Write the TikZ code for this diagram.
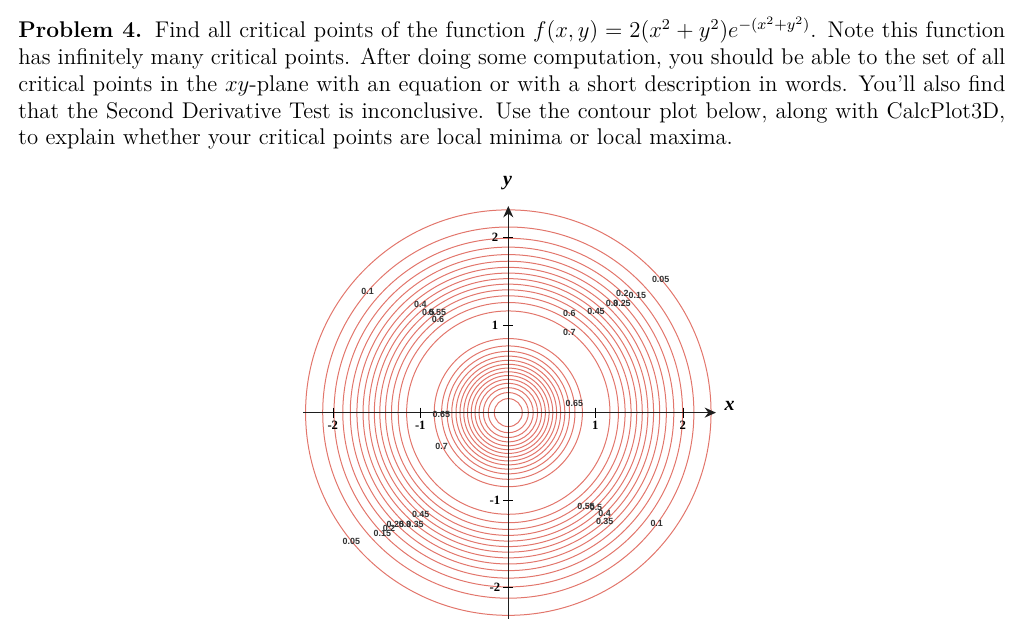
\documentclass[tikz,border=0pt]{standalone}
\usepackage{amsmath}
\usepackage{amssymb}
\usepackage{fontspec}
\usepackage{tikz}
\usetikzlibrary{arrows.meta}
\newfontfamily\plotfont{Liberation Sans}
\newfontfamily\axisfont{Liberation Serif}
\tikzset{
  contour/.style={draw={rgb, 255:red, 226; green, 118; blue, 108},line width=0.75pt},
  axisline/.style={draw={rgb, 255:red, 30; green, 30; blue, 30},line width=1.15pt,-{Stealth[length=8.5pt,width=7.5pt]}},
  tickmark/.style={line width=0.7pt},
  levellabel/.style={inner sep=0pt,font=\plotfont\bfseries\fontsize{6.7}{7}\selectfont,text={rgb, 255:red, 50; green, 50; blue, 50}},
  ticklabel/.style={inner sep=0pt,font=\axisfont\bfseries\fontsize{9.5}{10}\selectfont},
  axislabel/.style={inner sep=0pt,font=\axisfont\itshape\bfseries\fontsize{15}{16}\selectfont},
  problemtext/.style={inner sep=0pt,anchor=north west,align=justify,text width=521.3pt,xscale=1.42,yscale=-1.42,transform shape,font=\fontsize{12}{14.13}\selectfont}
}
\begin{document}
\begin{tikzpicture}[x=0.75pt,y=0.75pt,yscale=-1,xscale=1]
\useasboundingbox (0,0) rectangle (1024,637);
\node [problemtext] (problem) at (18,16.5) {\hyphenpenalty=10000\textbf{Problem 4.}\hspace{0.55em}Find all critical points of the function $f(x,y)=2(x^2+y^2)e^{-(x^2+y^2)}$. Note this function has infinitely many critical points. After doing some computation, you should be able to the set of all critical points in the $xy$-plane with an equation or with a short description in words. You'll also find that the Second Derivative Test is inconclusive. Use the contour plot below, along with CalcPlot3D,\linebreak to explain whether your critical points are local minima or local maxima.\par};
%Contours
\coordinate (origin) at (508.3,412.6);
\foreach \r in {0.1601,0.2296,0.2853,0.3344,0.380,0.4238,0.4665,0.5091,0.5526,0.5978,0.6465,0.6996,0.762,0.8466,1.162,1.2584,1.3347,1.403,1.4682,1.531,1.5946,1.660,1.730,1.806,1.8914,1.992,2.121,2.317}
  \draw [contour] (origin) circle [radius=87.5*\r];
%Axes
\coordinate (xstart) at (303,412.6);
\coordinate (xend) at (716,412.6);
\coordinate (ystart) at (508.3,618.5);
\coordinate (yend) at (508.3,206);
\draw [axisline] (xstart) -- (xend);
\draw [axisline] (ystart) -- (yend);
\node [axislabel] (xlabel) at (729.5,405.5) {x};
\node [axislabel] (ylabel) at (507.5,183) {y};
%Ticks
\foreach \t/\lab in {-2/-2,-1/-1,1/1,2/2}{
  \draw [tickmark] (508.3+87.5*\t,407.6) -- (508.3+87.5*\t,417.6);
  \draw [tickmark] (503.3,412.6-87.5*\t) -- (513.3,412.6-87.5*\t);
  \node [ticklabel] (xtick\lab) at (508.3+87.5*\t-0.5,425.7) {\lab};
  \node [ticklabel] (ytick\lab) at (495,412.6-87.5*\t) {\lab};
}
%Level labels
\foreach \px/\py/\lab [count=\n] in {367.7/291/0.1,420.3/304.3/0.4,428.3/312/0.5,437.3/312/0.55,438/319.7/0.6,660.7/279/0.05,622.3/293/0.2,637.3/295.3/0.15,612/303.3/0.3,622/303/0.25,596/311.7/0.45,569.3/313.7/0.6,569.3/332/0.7,574.3/403/0.65,441.3/414.3/0.65,441.7/446.7/0.7,420.7/514/0.45,395.3/524/0.25,405/524/0.3,415/524/0.35,389/528.3/0.2,382.3/533.7/0.15,351.3/541.7/0.05,586/506.7/0.55,596/507/0.5,604.7/513.7/0.4,604.7/521.3/0.35,656.7/523.7/0.1}
  \node [levellabel] (level\n) at (\px,\py) {\lab};
\end{tikzpicture}
\end{document}
